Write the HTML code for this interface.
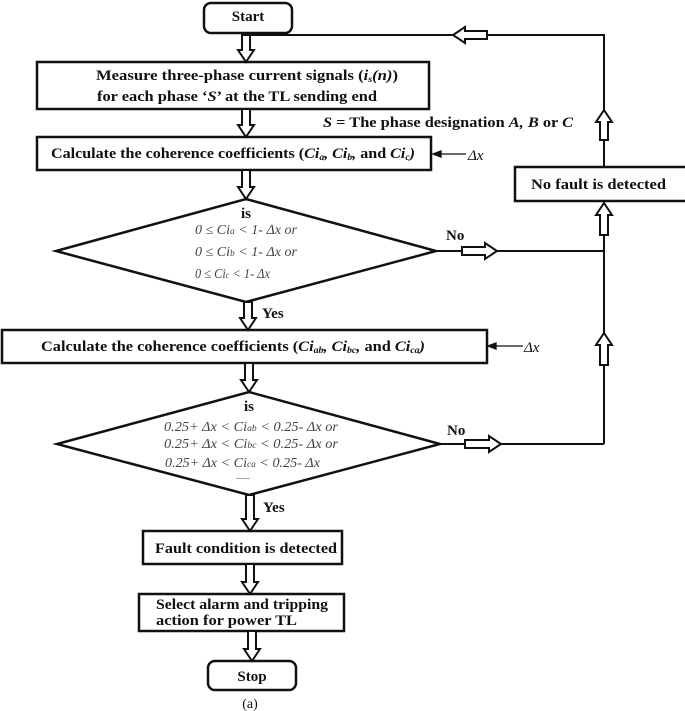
<!DOCTYPE html>
<html><head><meta charset="utf-8"><style>
body{margin:0;background:#fff}
svg{display:block}
text{font-family:"Liberation Serif",serif;fill:#111}
.b{font-weight:bold;font-size:15px}
.i{font-style:italic;font-size:13.5px;fill:#444}
</style></head><body>
<svg width="685" height="711" viewBox="0 0 685 711" xmlns="http://www.w3.org/2000/svg">
<g stroke="#111" stroke-width="2" fill="none">
<polyline points="250,35 604,35 604,167"/>
<line x1="604" y1="201" x2="604" y2="444"/>
<line x1="436" y1="251" x2="604" y2="251"/>
<line x1="440" y1="444" x2="604" y2="444"/>
<rect x="204" y="3" width="88" height="30" rx="7" stroke-width="2.5"/>
<rect x="37" y="62" width="392" height="47" stroke-width="2.5"/>
<rect x="37" y="137" width="394" height="33" stroke-width="2.5"/>
<polygon points="246,199 436,251 246,302 56,251" stroke-width="2.5"/>
<rect x="515" y="167" width="172" height="34" stroke-width="2.5"/>
<rect x="2" y="330" width="485" height="33" stroke-width="2.5"/>
<polygon points="249,392 440,444 249,495 57,444" stroke-width="2.5"/>
<rect x="143" y="531" width="199" height="33" stroke-width="2.5"/>
<rect x="139" y="594" width="205" height="37" stroke-width="2.5"/>
<rect x="208" y="661" width="88" height="29" rx="7" stroke-width="2.5"/>
</g>
<g stroke="#111" stroke-width="2" fill="#fff">
<polygon points="242,35 250,35 250,50 254,50 246,62 238,50 242,50"/>
<polygon points="242,109 250,109 250,125 254,125 246,137 238,125 242,125"/>
<polygon points="242,170 250,170 250,187 254,187 246,199 238,187 242,187"/>
<polygon points="244,302 252,302 252,318 256,318 248,330 240,318 244,318"/>
<polygon points="245,363 253,363 253,380 257,380 249,392 241,380 245,380"/>
<polygon points="246,495 254,495 254,519 258,519 250,531 242,519 246,519"/>
<polygon points="246,564 254,564 254,582 258,582 250,594 242,582 246,582"/>
<polygon points="248,631 256,631 256,649 260,649 252,661 244,649 248,649"/>
<polygon points="600,140 608,140 608,122 612,122 604,110 596,122 600,122"/>
<polygon points="600,235 608,235 608,215 612,215 604,203 596,215 600,215"/>
<polygon points="600,365 608,365 608,345 612,345 604,333 596,345 600,345"/>
<polygon points="462,247 462,255 485,255 485,259 497,251 485,243 485,247"/>
<polygon points="465,440 465,448 489,448 489,452 501,444 489,436 489,440"/>
<polygon points="487,31 487,39 465,39 465,43 453,35 465,27 465,31"/>
</g>
<g stroke="#111" stroke-width="1.3" fill="#111">
<line x1="440" y1="154" x2="466" y2="154"/><polygon points="433,154 441,151 441,157"/>
<line x1="495" y1="346" x2="523" y2="346"/><polygon points="488,346 496,343 496,349"/>
</g>
<text class="b" x="248" y="21" text-anchor="middle">Start</text>
<text class="b" x="96" y="80" textLength="302" lengthAdjust="spacingAndGlyphs">Measure three-phase current signals (<tspan font-style="italic">i<tspan font-size="9" dy="2">s</tspan><tspan dy="-2">(n)</tspan></tspan>)</text>
<text class="b" x="97" y="101" textLength="280" lengthAdjust="spacingAndGlyphs">for each phase ‘<tspan font-style="italic">S</tspan>’ at the TL sending end</text>
<text class="b" x="323" y="127" textLength="250" lengthAdjust="spacingAndGlyphs"><tspan font-style="italic">S</tspan> = The phase designation <tspan font-style="italic">A, B</tspan> or <tspan font-style="italic">C</tspan></text>
<text class="b" x="51" y="158" textLength="364" lengthAdjust="spacingAndGlyphs">Calculate the coherence coefficients (<tspan font-style="italic">Ci<tspan font-size="9" dy="2">a</tspan><tspan dy="-2">, Ci</tspan><tspan font-size="9" dy="2">b</tspan><tspan dy="-2">,</tspan></tspan> and <tspan font-style="italic">Ci<tspan font-size="9" dy="2">c</tspan><tspan dy="-2">)</tspan></tspan></text>
<text x="468" y="160" font-style="italic" font-size="15">Δx</text>
<text class="b" x="246" y="218" text-anchor="middle">is</text>
<text class="i" x="195" y="234" textLength="102" lengthAdjust="spacingAndGlyphs">0 ≤ Ci<tspan font-size="9">a</tspan> &lt; 1- Δx or</text>
<text class="i" x="195" y="256" textLength="102" lengthAdjust="spacingAndGlyphs">0 ≤ Ci<tspan font-size="9">b</tspan> &lt; 1- Δx or</text>
<text class="i" x="195" y="278" textLength="75" lengthAdjust="spacingAndGlyphs">0 ≤ Ci<tspan font-size="9">c</tspan> &lt; 1- Δx</text>
<text class="b" x="446" y="240">No</text>
<text class="b" x="531" y="189" textLength="135" lengthAdjust="spacingAndGlyphs">No fault is detected</text>
<text class="b" x="262" y="318">Yes</text>
<text class="b" x="41" y="351" textLength="384" lengthAdjust="spacingAndGlyphs">Calculate the coherence coefficients (<tspan font-style="italic">Ci<tspan font-size="9" dy="2">ab</tspan><tspan dy="-2">, Ci</tspan><tspan font-size="9" dy="2">bc</tspan><tspan dy="-2">,</tspan></tspan> and <tspan font-style="italic">Ci<tspan font-size="9" dy="2">ca</tspan><tspan dy="-2">)</tspan></tspan></text>
<text x="524" y="352" font-style="italic" font-size="15">Δx</text>
<text class="b" x="249" y="411" text-anchor="middle">is</text>
<text class="i" x="164" y="431" textLength="174" lengthAdjust="spacingAndGlyphs">0.25+ Δx &lt; Ci<tspan font-size="9">ab</tspan> &lt; 0.25- Δx  or</text>
<text class="i" x="164" y="448" textLength="174" lengthAdjust="spacingAndGlyphs">0.25+ Δx &lt; Ci<tspan font-size="9">bc</tspan> &lt; 0.25- Δx  or</text>
<text class="i" x="165" y="467" textLength="155" lengthAdjust="spacingAndGlyphs">0.25+ Δx &lt; Ci<tspan font-size="9">ca</tspan> &lt; 0.25- Δx</text>
<text x="236" y="479" font-size="8" fill="#ccc">.......</text>
<text class="b" x="447" y="435">No</text>
<text class="b" x="263" y="512">Yes</text>
<text class="b" x="155" y="553" textLength="182" lengthAdjust="spacingAndGlyphs">Fault condition is detected</text>
<text class="b" x="156" y="609" textLength="172" lengthAdjust="spacingAndGlyphs">Select alarm and tripping</text>
<text class="b" x="156" y="625" textLength="141" lengthAdjust="spacingAndGlyphs">action for  power TL</text>
<text class="b" x="252" y="681" text-anchor="middle">Stop</text>
<text x="250" y="708" font-size="14" text-anchor="middle">(a)</text>
</svg>
</body></html>
